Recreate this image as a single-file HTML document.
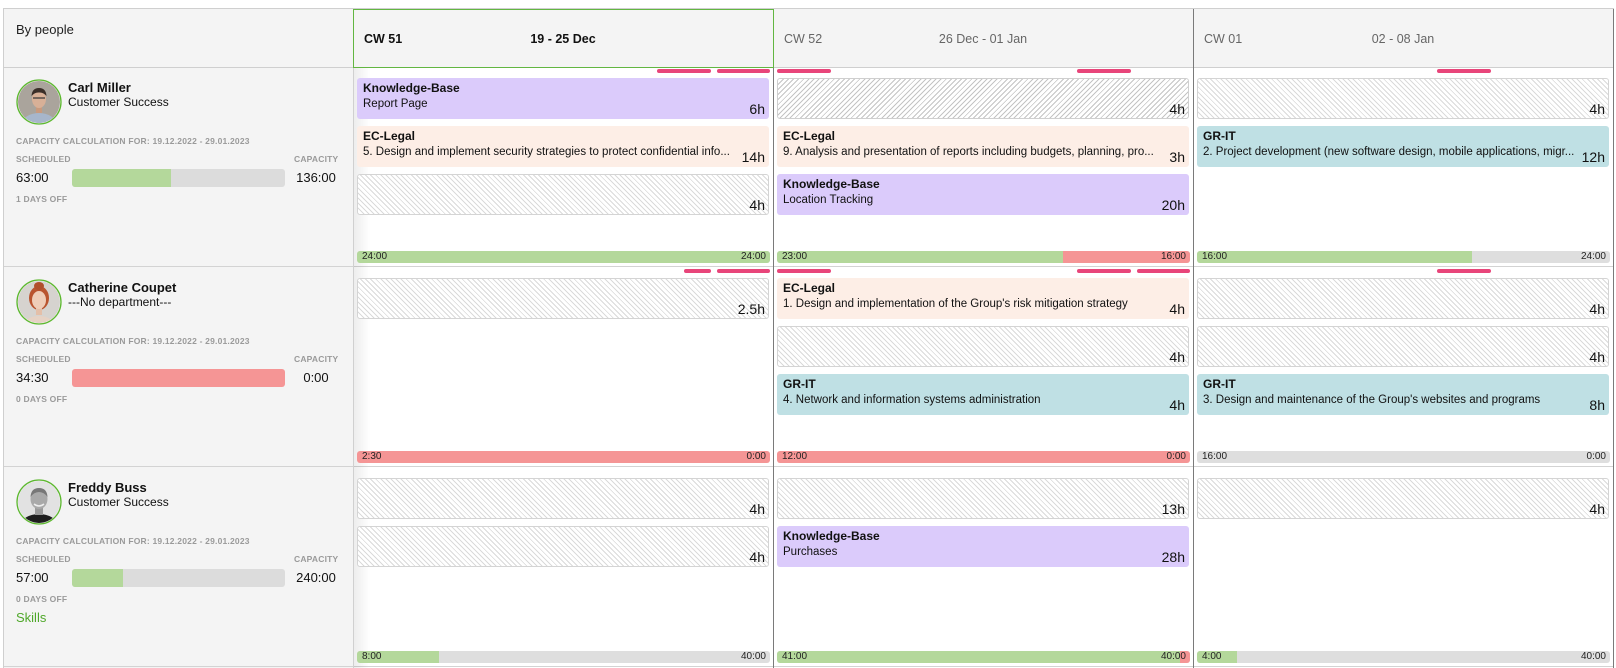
<!DOCTYPE html>
<html><head><meta charset="utf-8">
<style>
*{margin:0;padding:0;box-sizing:border-box}
html,body{width:1616px;height:668px;overflow:hidden;background:#fff;font-family:"Liberation Sans",Arial,sans-serif;color:#1a1a1a}
.a{position:absolute}
.hl{position:absolute;height:1px;background:#d3d3d3}
.vl{position:absolute;width:1px}
.card{position:absolute;width:412px;height:41px;border-radius:3px}
.kb{background:#dbcbfb}
.ec{background:#fdeee6}
.gr{background:#bfe0e4}
.ha{background:repeating-linear-gradient(45deg,#dadada 0 1px,#fff 1px 3.6px);border:1px solid #d4d4d4}
.hb{background:repeating-linear-gradient(-45deg,#c4c4c4 0 1px,#fff 1px 3.6px);border:1px solid #cfcfcf}
.t{position:absolute;left:6px;top:3px;font-size:12px;font-weight:bold;line-height:15px;white-space:nowrap;color:#111}
.s{position:absolute;left:6px;top:19px;font-size:11.5px;line-height:14px;white-space:nowrap;color:#111}
.h{position:absolute;right:4px;top:23px;font-size:14px;line-height:17px;color:#111}
.ha .h,.hb .h{right:3px;top:22px}
.bar{position:absolute;width:413px;height:12px;border-radius:3px;overflow:hidden;background:#dedede}
.bar .g{position:absolute;top:0;bottom:0;left:0;background:#b4d89b}
.bar .r{position:absolute;top:0;bottom:0;background:#f59595}
.bar .l{position:absolute;left:5px;top:0;font-size:10px;line-height:12px;color:#222}
.bar .rt{position:absolute;right:4px;top:0;font-size:10px;line-height:12px;color:#222}
.mk{position:absolute;height:4px;border-radius:2px;background:#e8457a}
.nm{position:absolute;left:68px;font-size:13px;font-weight:bold;line-height:16px;color:#111}
.dp{position:absolute;left:68px;font-size:12px;line-height:15px;color:#111}
.cc{position:absolute;left:16px;font-size:8.5px;font-weight:bold;line-height:11px;color:#9a9a9a;letter-spacing:0.2px}
.lb{position:absolute;font-size:8.5px;font-weight:bold;line-height:11px;color:#9a9a9a;letter-spacing:0.2px}
.val{position:absolute;font-size:13px;line-height:16px;color:#111}
.cbar{position:absolute;left:72px;width:213px;height:18px;border-radius:3px;background:#dcdcdc;overflow:hidden}
.av{position:absolute;left:16px;width:46px;height:46px}
.hdr{position:absolute;top:9px;height:58px;background:#f4f4f4}
.cw{position:absolute;top:31px;font-size:12.5px;line-height:16px}
.dt{position:absolute;top:31px;width:420px;text-align:center;font-size:12.5px;line-height:16px}
</style></head><body>

<!-- left panel background -->
<div class="a" style="left:3px;top:8px;width:351px;height:660px;background:#f4f4f4"></div>
<!-- header cells -->
<div class="hdr" style="left:773px;width:840px"></div>
<div class="a" style="left:353px;top:9px;width:421px;height:59px;background:#f4f4f4;border:1px solid #62b641"></div>

<!-- top/bottom lines -->
<div class="hl" style="left:3px;top:8px;width:1611px;background:#cfcfcf"></div>
<div class="hl" style="left:3px;top:67px;width:350px;background:#cfcfcf"></div>
<div class="hl" style="left:774px;top:67px;width:840px;background:#cfcfcf"></div>
<div class="hl" style="left:3px;top:266px;width:1611px"></div>
<div class="hl" style="left:3px;top:466px;width:1611px"></div>
<div class="hl" style="left:3px;top:666px;width:1611px"></div>
<!-- verticals -->
<div class="vl" style="left:3px;top:8px;height:660px;background:#cfcfcf"></div>
<div class="vl" style="left:353px;top:68px;height:600px;background:#d0d0d0"></div>
<div class="vl" style="left:773px;top:68px;height:600px;background:#7a7a7a"></div>
<div class="vl" style="left:1193px;top:9px;height:659px;background:#7a7a7a"></div>
<div class="vl" style="left:1613px;top:9px;height:659px;background:#7a7a7a"></div>
<!-- shadow -->
<div class="a" style="left:354px;top:68px;width:16px;height:600px;background:linear-gradient(to right,rgba(0,0,0,0.07),rgba(0,0,0,0))"></div>

<!-- header text -->
<div class="a" style="left:16px;top:22px;font-size:13px;line-height:16px;color:#222">By people</div>
<div class="cw" style="left:364px;font-weight:bold;color:#111">CW 51</div>
<div class="dt" style="left:353px;font-weight:bold;color:#111">19 - 25 Dec</div>
<div class="cw" style="left:784px;color:#666">CW 52</div>
<div class="dt" style="left:773px;color:#666">26 Dec - 01 Jan</div>
<div class="cw" style="left:1204px;color:#666">CW 01</div>
<div class="dt" style="left:1193px;color:#666">02 - 08 Jan</div>

<!-- ===== ROW 1 left ===== -->
<svg class="av" style="top:79px" viewBox="0 0 46 46">
<defs><clipPath id="c1"><circle cx="23" cy="23" r="21"/></clipPath></defs>
<g clip-path="url(#c1)"><rect width="46" height="46" fill="#aaa49c"/>
<ellipse cx="23" cy="45" rx="17" ry="11" fill="#a7b6cb"/>
<rect x="20" y="27" width="6" height="7" fill="#c99a7e"/>
<ellipse cx="23" cy="20" rx="7" ry="9" fill="#d8b097"/>
<path d="M15.5 17 Q16 9 23 9 Q30 9 30.5 17 Q27 13 23 13.5 Q19 13 15.5 17Z" fill="#3a2e28"/>
<rect x="17" y="18" width="12" height="2" fill="#333" opacity=".6"/></g>
<circle cx="23" cy="23" r="22" fill="none" stroke="#5cb82e" stroke-width="1.3"/></svg>
<div class="nm" style="top:80px">Carl Miller</div>
<div class="dp" style="top:95px">Customer Success</div>
<div class="cc" style="top:136px">CAPACITY CALCULATION FOR: 19.12.2022 - 29.01.2023</div>
<div class="lb" style="left:16px;top:154px">SCHEDULED</div>
<div class="lb" style="left:294px;top:154px">CAPACITY</div>
<div class="val" style="left:16px;top:170px">63:00</div>
<div class="cbar" style="top:169px"><div class="a" style="left:0;top:0;bottom:0;width:99px;background:#b4d89b"></div></div>
<div class="val" style="left:276px;width:80px;text-align:center;top:170px">136:00</div>
<div class="cc" style="top:194px">1 DAYS OFF</div>

<!-- ===== ROW 2 left ===== -->
<svg class="av" style="top:279px" viewBox="0 0 46 46">
<defs><clipPath id="c2"><circle cx="23" cy="23" r="21"/></clipPath></defs>
<g clip-path="url(#c2)"><rect width="46" height="46" fill="#d6d3cf"/>
<ellipse cx="23" cy="46" rx="15" ry="9" fill="#e6d2c4"/>
<ellipse cx="23" cy="19" rx="10" ry="12" fill="#b9542f"/>
<ellipse cx="23" cy="7" rx="5" ry="4" fill="#b04e2b"/>
<rect x="20" y="28" width="6" height="8" fill="#e4bfa8"/>
<ellipse cx="23" cy="21" rx="7" ry="9" fill="#efcdb8"/></g>
<circle cx="23" cy="23" r="22" fill="none" stroke="#5cb82e" stroke-width="1.3"/></svg>
<div class="nm" style="top:280px">Catherine Coupet</div>
<div class="dp" style="top:295px">---No department---</div>
<div class="cc" style="top:336px">CAPACITY CALCULATION FOR: 19.12.2022 - 29.01.2023</div>
<div class="lb" style="left:16px;top:354px">SCHEDULED</div>
<div class="lb" style="left:294px;top:354px">CAPACITY</div>
<div class="val" style="left:16px;top:370px">34:30</div>
<div class="cbar" style="top:369px;background:#f59595"></div>
<div class="val" style="left:276px;width:80px;text-align:center;top:370px">0:00</div>
<div class="cc" style="top:394px">0 DAYS OFF</div>

<!-- ===== ROW 3 left ===== -->
<svg class="av" style="top:479px" viewBox="0 0 46 46">
<defs><clipPath id="c3"><circle cx="23" cy="23" r="21"/></clipPath></defs>
<g clip-path="url(#c3)"><rect width="46" height="46" fill="#e2e2e2"/>
<ellipse cx="23" cy="46" rx="18" ry="11" fill="#1e1e1e"/>
<rect x="19" y="28" width="8" height="8" fill="#9a9a9a"/>
<ellipse cx="23" cy="20" rx="8.5" ry="10" fill="#a9a9a9"/>
<path d="M14.5 18 Q15 9 23 9 Q31 9 31.5 18 Q28 13 23 13 Q18 13 14.5 18Z" fill="#777"/>
<path d="M18 25 Q23 29 28 25" stroke="#eee" stroke-width="1.5" fill="none"/></g>
<circle cx="23" cy="23" r="22" fill="none" stroke="#5cb82e" stroke-width="1.3"/></svg>
<div class="nm" style="top:480px">Freddy Buss</div>
<div class="dp" style="top:495px">Customer Success</div>
<div class="cc" style="top:536px">CAPACITY CALCULATION FOR: 19.12.2022 - 29.01.2023</div>
<div class="lb" style="left:16px;top:554px">SCHEDULED</div>
<div class="lb" style="left:294px;top:554px">CAPACITY</div>
<div class="val" style="left:16px;top:570px">57:00</div>
<div class="cbar" style="top:569px"><div class="a" style="left:0;top:0;bottom:0;width:51px;background:#b4d89b"></div></div>
<div class="val" style="left:276px;width:80px;text-align:center;top:570px">240:00</div>
<div class="cc" style="top:594px">0 DAYS OFF</div>
<div class="a" style="left:16px;top:610px;font-size:13px;line-height:16px;color:#4fa82a">Skills</div>

<!-- ===== markers ===== -->
<div class="mk" style="left:657px;top:69px;width:54px"></div>
<div class="mk" style="left:717px;top:69px;width:53px"></div>
<div class="mk" style="left:777px;top:69px;width:54px"></div>
<div class="mk" style="left:1077px;top:69px;width:54px"></div>
<div class="mk" style="left:1437px;top:69px;width:54px"></div>

<div class="mk" style="left:684px;top:269px;width:27px"></div>
<div class="mk" style="left:717px;top:269px;width:53px"></div>
<div class="mk" style="left:777px;top:269px;width:54px"></div>
<div class="mk" style="left:1077px;top:269px;width:54px"></div>
<div class="mk" style="left:1137px;top:269px;width:53px"></div>
<div class="mk" style="left:1437px;top:269px;width:54px"></div>

<!-- ===== ROW 1 cards ===== -->
<div class="card kb" style="left:357px;top:78px"><div class="t">Knowledge-Base</div><div class="s">Report Page</div><div class="h">6h</div></div>
<div class="card ec" style="left:357px;top:126px"><div class="t">EC-Legal</div><div class="s">5. Design and implement security strategies to protect confidential info...</div><div class="h">14h</div></div>
<div class="card ha" style="left:357px;top:174px"><div class="h">4h</div></div>

<div class="card hb" style="left:777px;top:78px"><div class="h">4h</div></div>
<div class="card ec" style="left:777px;top:126px"><div class="t">EC-Legal</div><div class="s">9. Analysis and presentation of reports including budgets, planning, pro...</div><div class="h">3h</div></div>
<div class="card kb" style="left:777px;top:174px"><div class="t">Knowledge-Base</div><div class="s">Location Tracking</div><div class="h">20h</div></div>

<div class="card ha" style="left:1197px;top:78px"><div class="h">4h</div></div>
<div class="card gr" style="left:1197px;top:126px"><div class="t">GR-IT</div><div class="s">2. Project development (new software design, mobile applications, migr...</div><div class="h">12h</div></div>

<div class="bar" style="left:357px;top:251px"><div class="g" style="width:413px"></div><div class="l">24:00</div><div class="rt">24:00</div></div>
<div class="bar" style="left:777px;top:251px"><div class="g" style="width:286px"></div><div class="r" style="left:286px;right:0"></div><div class="l">23:00</div><div class="rt">16:00</div></div>
<div class="bar" style="left:1197px;top:251px"><div class="g" style="width:275px"></div><div class="l">16:00</div><div class="rt">24:00</div></div>

<!-- ===== ROW 2 cards ===== -->
<div class="card ha" style="left:357px;top:278px"><div class="h">2.5h</div></div>

<div class="card ec" style="left:777px;top:278px"><div class="t">EC-Legal</div><div class="s">1. Design and implementation of the Group's risk mitigation strategy</div><div class="h">4h</div></div>
<div class="card ha" style="left:777px;top:326px"><div class="h">4h</div></div>
<div class="card gr" style="left:777px;top:374px"><div class="t">GR-IT</div><div class="s">4. Network and information systems administration</div><div class="h">4h</div></div>

<div class="card ha" style="left:1197px;top:278px"><div class="h">4h</div></div>
<div class="card ha" style="left:1197px;top:326px"><div class="h">4h</div></div>
<div class="card gr" style="left:1197px;top:374px"><div class="t">GR-IT</div><div class="s">3. Design and maintenance of the Group's websites and programs</div><div class="h">8h</div></div>

<div class="bar" style="left:357px;top:451px;background:#f59595"><div class="l">2:30</div><div class="rt">0:00</div></div>
<div class="bar" style="left:777px;top:451px;background:#f59595"><div class="l">12:00</div><div class="rt">0:00</div></div>
<div class="bar" style="left:1197px;top:451px"><div class="l">16:00</div><div class="rt">0:00</div></div>

<!-- ===== ROW 3 cards ===== -->
<div class="card ha" style="left:357px;top:478px"><div class="h">4h</div></div>
<div class="card ha" style="left:357px;top:526px"><div class="h">4h</div></div>

<div class="card ha" style="left:777px;top:478px"><div class="h">13h</div></div>
<div class="card kb" style="left:777px;top:526px"><div class="t">Knowledge-Base</div><div class="s">Purchases</div><div class="h">28h</div></div>

<div class="card ha" style="left:1197px;top:478px"><div class="h">4h</div></div>

<div class="bar" style="left:357px;top:651px"><div class="g" style="width:82px"></div><div class="l">8:00</div><div class="rt">40:00</div></div>
<div class="bar" style="left:777px;top:651px"><div class="g" style="width:403px"></div><div class="r" style="left:403px;right:0"></div><div class="l">41:00</div><div class="rt">40:00</div></div>
<div class="bar" style="left:1197px;top:651px"><div class="g" style="width:40px"></div><div class="l">4:00</div><div class="rt">40:00</div></div>

</body></html>
